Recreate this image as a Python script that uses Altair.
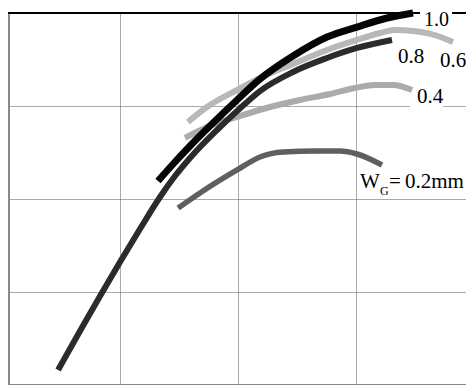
import altair as alt
import pandas as pd

# curves in grid units (x: 0..4, y: 0..4)
w10_x = [1.322, 1.458, 1.593, 1.788, 1.992, 2.186, 2.466, 2.754, 3.008, 3.263, 3.483]
w10_y = [2.194, 2.387, 2.570, 2.817, 3.065, 3.290, 3.538, 3.742, 3.849, 3.946, 4.000]

w08_x = [0.475, 0.661, 0.831, 1.000, 1.169, 1.339, 1.466, 1.593, 1.822, 1.992, 2.186, 2.466, 2.754, 3.008, 3.305]
w08_y = [0.161, 0.581, 0.957, 1.323, 1.677, 2.022, 2.247, 2.441, 2.742, 2.946, 3.161, 3.366, 3.516, 3.624, 3.710]

w06_x = [1.576, 1.737, 1.992, 2.186, 2.466, 2.754, 3.008, 3.203, 3.331, 3.483, 3.669, 3.822]
w06_y = [2.828, 2.989, 3.172, 3.301, 3.452, 3.602, 3.710, 3.785, 3.817, 3.806, 3.763, 3.688]

w04_x = [1.551, 1.737, 1.992, 2.271, 2.525, 2.780, 2.992, 3.161, 3.314, 3.475]
w04_y = [2.656, 2.774, 2.882, 2.989, 3.065, 3.129, 3.194, 3.226, 3.226, 3.172]

w02_x = [1.492, 1.678, 1.992, 2.186, 2.381, 2.669, 2.864, 3.008, 3.220]
w02_y = [1.903, 2.065, 2.312, 2.452, 2.505, 2.516, 2.516, 2.484, 2.366]

grid_vals = [1, 2, 3]

# labels
top_text = ["1.0"]
top_x = [3.682]
top_y = [3.860]

lab_text = ["0.8", "0.6", "0.4"]
lab_x = [3.466, 3.822, 3.627]
lab_y = [3.462, 3.419, 3.032]

wg_text = ["W", "=", "0.2mm"]
wg_x = [3.034, 3.280, 3.415]
wg_y = [2.118, 2.118, 2.118]
sub_text = ["G"]
sub_x = [3.203]
sub_y = [2.043]

# white label backgrounds
bg_x = [3.542, 3.458]
bg_x2 = [3.814, 3.737]
bg_y = [4.0215, 3.215]
bg_y2 = [3.839, 2.968]

FONT = "Liberation Serif"

xs = alt.Scale(domain=[0.0508, 3.932], nice=False, zero=False)
ys = alt.Scale(domain=[0.0, 4.0], nice=False, zero=False)

xaxis = alt.Axis(values=grid_vals, labels=False, ticks=False, title=None,
                 grid=True, gridDash=[1, 1], gridColor="#555555", gridWidth=1,
                 domain=True, domainColor="#888888", domainWidth=3)
yaxis = alt.Axis(values=grid_vals, labels=False, ticks=False, title=None,
                 grid=True, gridDash=[1, 1], gridColor="#555555", gridWidth=1,
                 domain=True, domainColor="#888888", domainWidth=3)


def curve(xv, yv, color, width):
    df = pd.DataFrame({"x": xv, "y": yv})
    return alt.Chart(df).mark_line(color=color, strokeWidth=width,
                                   interpolate="monotone", strokeCap="butt").encode(
        x=alt.X("x:Q", scale=xs, axis=xaxis),
        y=alt.Y("y:Q", scale=ys, axis=yaxis),
    )


def texts(t, x, y, size, align):
    df = pd.DataFrame({"t": t, "x": x, "y": y})
    return alt.Chart(df).mark_text(
        font=FONT, fontSize=size, align=align, baseline="alphabetic", color="black").encode(
        x=alt.X("x:Q", scale=xs, axis=xaxis), y=alt.Y("y:Q", scale=ys, axis=yaxis), text="t:N")


top_rule = alt.Chart(pd.DataFrame({"y": [4.0]})).mark_rule(
    color="black", strokeWidth=2).encode(y=alt.Y("y:Q", scale=ys, axis=yaxis))

bg = alt.Chart(pd.DataFrame({"x": bg_x, "x2": bg_x2, "y": bg_y, "y2": bg_y2})).mark_rect(
    color="white").encode(
    x=alt.X("x:Q", scale=xs, axis=xaxis), x2="x2:Q",
    y=alt.Y("y:Q", scale=ys, axis=yaxis), y2="y2:Q")

chart = alt.layer(
    top_rule,
    bg,
    curve(w02_x, w02_y, "#5f5f5f", 5.5),
    curve(w04_x, w04_y, "#ababab", 6),
    curve(w06_x, w06_y, "#b8b8b8", 6),
    curve(w08_x, w08_y, "#2b2b2b", 6),
    curve(w10_x, w10_y, "#050505", 7),
    texts(top_text, top_x, top_y, 20, "center"),
    texts(lab_text, lab_x, lab_y, 21, "center"),
    texts(wg_text, wg_x, wg_y, 21, "left"),
    texts(sub_text, sub_x, sub_y, 12, "left"),
).properties(
    width=458, height=372,
    padding={"left": 0, "top": 5, "right": 0, "bottom": 0},
    autosize=alt.AutoSizeParams(type="none"),
).configure_view(stroke=None).configure(background="white")

chart.save("out.html", embed_options={"renderer": "svg", "actions": False})
